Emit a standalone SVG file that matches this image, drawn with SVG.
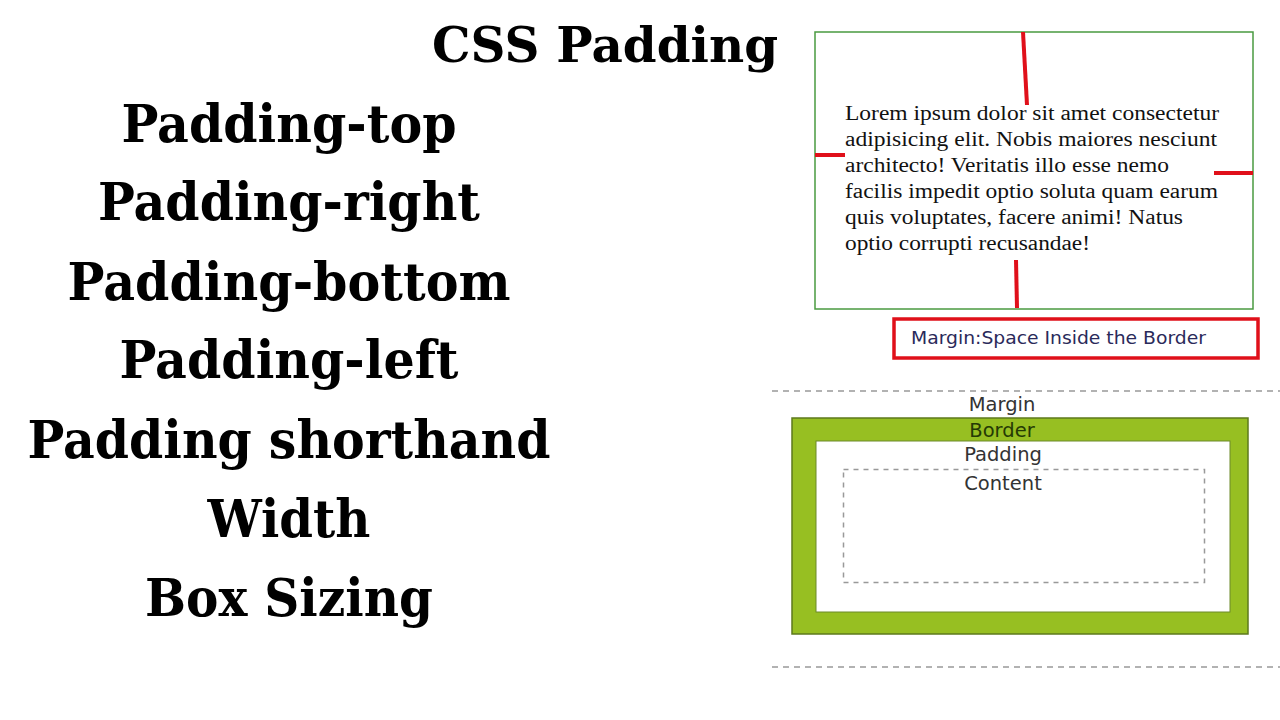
<svg xmlns="http://www.w3.org/2000/svg" width="1280" height="720" viewBox="0 0 1280 720">
<style>
.h{font-family:"DejaVu Serif","Liberation Serif",serif;font-weight:bold;fill:#000;text-anchor:middle}
.lorem{font-family:"Liberation Serif",serif;font-size:20.5px;fill:#111}
.lbl{font-family:"DejaVu Sans","Liberation Sans",sans-serif;font-size:19.5px;fill:#333;text-anchor:middle}
.red{stroke:#e0101a;stroke-width:4;fill:none}
.dash{stroke:#999;stroke-width:1.5;stroke-dasharray:6 5;fill:none}
</style>
<rect width="1280" height="720" fill="#fff"/>
<g id="title"><text class="h" x="605" y="62" font-size="48" textLength="346" lengthAdjust="spacingAndGlyphs">CSS Padding</text></g>
<g id="list">
<text class="h" x="289" y="142" font-size="52" textLength="335" lengthAdjust="spacingAndGlyphs">Padding-top</text>
<text class="h" x="289" y="220" font-size="52" textLength="382" lengthAdjust="spacingAndGlyphs">Padding-right</text>
<text class="h" x="289" y="300" font-size="52" textLength="443" lengthAdjust="spacingAndGlyphs">Padding-bottom</text>
<text class="h" x="289" y="378" font-size="52" textLength="339" lengthAdjust="spacingAndGlyphs">Padding-left</text>
<text class="h" x="289" y="458" font-size="52" textLength="523" lengthAdjust="spacingAndGlyphs">Padding shorthand</text>
<text class="h" x="289" y="537" font-size="52" textLength="163" lengthAdjust="spacingAndGlyphs">Width</text>
<text class="h" x="289" y="616" font-size="52" textLength="288" lengthAdjust="spacingAndGlyphs">Box Sizing</text>
</g>
<g id="padding-example">
<rect x="815" y="32" width="438" height="277" fill="#fff" stroke="#4a9a40" stroke-width="1.5"/>
<text class="lorem"><tspan x="845" y="120" textLength="374" lengthAdjust="spacingAndGlyphs">Lorem ipsum dolor sit amet consectetur</tspan><tspan x="845" y="146" textLength="372" lengthAdjust="spacingAndGlyphs">adipisicing elit. Nobis maiores nesciunt</tspan><tspan x="845" y="172" textLength="324" lengthAdjust="spacingAndGlyphs">architecto! Veritatis illo esse nemo</tspan><tspan x="845" y="198" textLength="373" lengthAdjust="spacingAndGlyphs">facilis impedit optio soluta quam earum</tspan><tspan x="845" y="224" textLength="338" lengthAdjust="spacingAndGlyphs">quis voluptates, facere animi! Natus</tspan><tspan x="845" y="250" textLength="245" lengthAdjust="spacingAndGlyphs">optio corrupti recusandae!</tspan></text>
</g>
<g id="connectors">
<line class="red" x1="1023" y1="32" x2="1027" y2="105"/>
<line class="red" x1="815" y1="155" x2="845" y2="155"/>
<line class="red" x1="1214" y1="173" x2="1253" y2="173"/>
<line class="red" x1="1016" y1="260" x2="1017" y2="308"/>
</g>
<g id="margin-label">
<rect x="894" y="319" width="364" height="39" fill="#fff" stroke="#e0101a" stroke-width="3.5"/>
<text x="911" y="344" font-family="DejaVu Sans,Verdana,sans-serif" font-size="17" fill="#2a2a5a" textLength="295" lengthAdjust="spacingAndGlyphs">Margin:Space Inside the Border</text>
</g>
<g id="box-model">
<line class="dash" x1="772" y1="391" x2="1280" y2="391"/>
<line class="dash" x1="772" y1="667" x2="1280" y2="667"/>
<text class="lbl" x="1002" y="411">Margin</text>
<rect x="792" y="418" width="456" height="216" fill="#97bf22" stroke="#5d7a1c" stroke-width="1.5"/>
<text class="lbl" x="1002" y="437" style="fill:#253a05">Border</text>
<rect x="816" y="441" width="414" height="171" fill="#fff" stroke="#6c8a2a" stroke-width="1"/>
<text class="lbl" x="1003" y="461">Padding</text>
<rect x="843.5" y="469.5" width="361" height="113" class="dash" stroke-width="1.3" style="stroke-dasharray:5 5"/>
<text class="lbl" x="1003" y="490">Content</text>
</g>
</svg>
